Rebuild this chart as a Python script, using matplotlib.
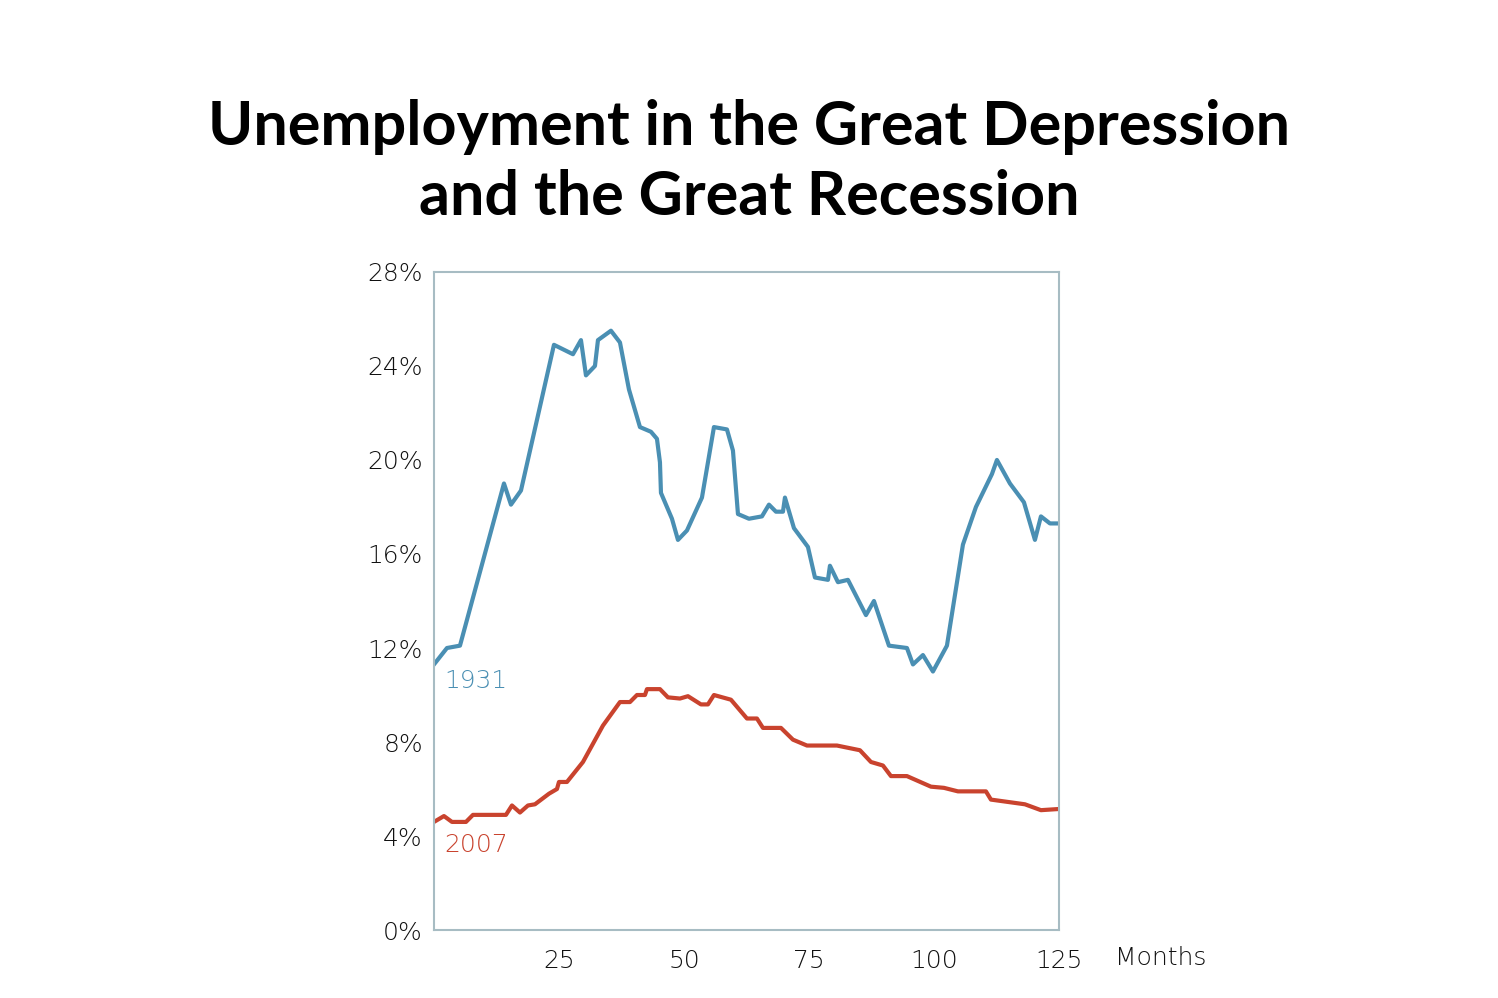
import matplotlib.pyplot as plt
from matplotlib.ticker import FuncFormatter

# Monthly unemployment rates, months since start
months_1931 = [0, 2.6, 5.2, 14, 15.4, 17.4, 24, 27.8, 29.4, 30.4, 32.2, 32.8, 35.4, 37.2, 39,
               41.2, 43.4, 44.6, 45.2, 45.4, 47.6, 48.8, 50.6, 53.6, 56, 58.6, 59.8, 60.8, 63,
               65.6, 67, 68.4, 69.8, 70.2, 72, 74.8, 76.2, 78.8, 79.2, 80.8, 82.8, 86.4, 88,
               91, 94.6, 95.8, 97.8, 99.8, 102.6, 105.8, 108.4, 111.6, 112.6, 115.2, 118,
               120.2, 121.4, 123.2, 125]
rate_1931 = [11.3, 12.0, 12.1, 19.0, 18.1, 18.7, 24.9, 24.5, 25.1, 23.6, 24.0, 25.1, 25.5,
             25.0, 23.0, 21.4, 21.2, 20.9, 19.9, 18.6, 17.5, 16.6, 17.0, 18.4, 21.4, 21.3,
             20.4, 17.7, 17.5, 17.6, 18.1, 17.8, 17.8, 18.4, 17.1, 16.3, 15.0, 14.9, 15.5,
             14.8, 14.9, 13.4, 14.0, 12.1, 12.0, 11.3, 11.7, 11.0, 12.1, 16.4, 18.0, 19.4,
             20.0, 19.0, 18.2, 16.6, 17.6, 17.3, 17.3]

months_2007 = [0, 2, 3.6, 6.4, 7.8, 14.4, 15.6, 17.2, 18.8, 20.2, 23, 24.6, 25, 26.6, 29.8,
               33.8, 37.2, 39.2, 40.6, 42.2, 42.6, 45.2, 46.8, 49.2, 50.8, 53.4, 54.8, 56,
               59.4, 62.6, 64.6, 65.8, 69.4, 71.8, 74.6, 80.6, 85.2, 87.4, 89.8, 91.4, 94.6,
               99.4, 102, 104.8, 110.4, 111.4, 118.2, 121.4, 125]
rate_2007 = [4.6, 4.85, 4.6, 4.6, 4.9, 4.9, 5.3, 5.0, 5.3, 5.35, 5.8, 6.0, 6.3, 6.3, 7.15,
             8.7, 9.7, 9.7, 10.0, 10.0, 10.25, 10.25, 9.9, 9.85, 9.95, 9.6, 9.6, 10.0, 9.8,
             9.0, 9.0, 8.6, 8.6, 8.1, 7.85, 7.85, 7.65, 7.15, 7.0, 6.55, 6.55, 6.1, 6.05,
             5.9, 5.9, 5.55, 5.35, 5.1, 5.15]

BLUE = '#4a8fb3'
RED = '#c9432e'
SPINE = '#a7bcc3'

fig = plt.figure(figsize=(14.98, 9.98), dpi=100)
ax = fig.add_axes([0.2897, 0.0681, 0.4172, 0.6594])

ax.plot(months_1931, rate_1931, color=BLUE, lw=3)
ax.plot(months_2007, rate_2007, color=RED, lw=3)

ax.set_xlim(0, 125)
ax.set_ylim(0, 28)
ax.set_xticks([25, 50, 75, 100, 125])
ax.set_yticks(range(0, 29, 4))
ax.yaxis.set_major_formatter(FuncFormatter(lambda v, p: f'{int(v)}%'))
ax.tick_params(length=0, labelsize=18, colors='#111111', pad=8)
ax.tick_params(axis='x', pad=14)
for lab in ax.get_xticklabels() + ax.get_yticklabels():
    lab.set_fontweight('light')
for s in ax.spines.values():
    s.set_color(SPINE)
    s.set_linewidth(1.5)

ax.text(2, 10.3, '1931', color=BLUE, fontsize=18, fontweight='light')
ax.text(2, 3.3, '2007', color=RED, fontsize=18, fontweight='light')
fig.text(1115 / 1498, 1 - 958 / 998, 'Months', fontsize=18, fontweight='light',
         va='center', color='#111111')

fig.text(0.5, 1 - 162 / 998, 'Unemployment in the Great Depression\nand the Great Recession',
         ha='center', va='center', fontsize=44, fontweight='bold', family='Lato',
         linespacing=1.3)

fig.savefig('out.png')
